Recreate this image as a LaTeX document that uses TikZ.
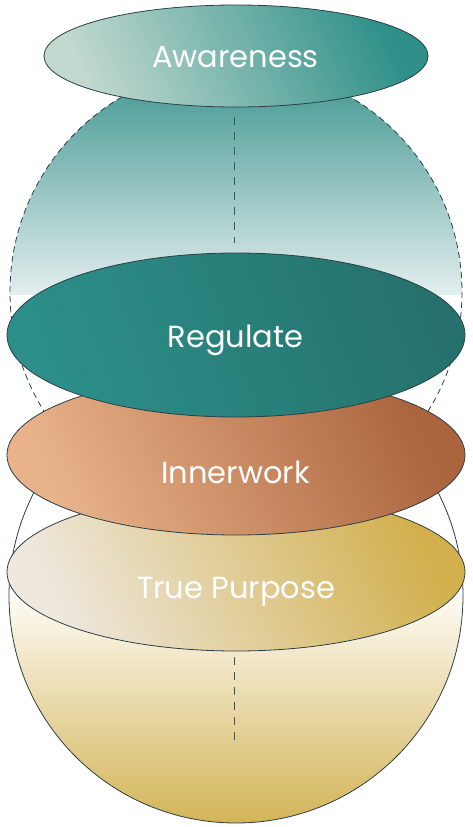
\documentclass[tikz,border=0pt]{standalone}
\usepackage{fontspec}
\newfontfamily\lbl{Poppins}
\usetikzlibrary{shapes.geometric}
\definecolor{edge}{HTML}{2B3F45}
\definecolor{dashc}{HTML}{3F5559}
\definecolor{tealTop}{HTML}{3D948E}
\definecolor{tealLow}{HTML}{E2EEEE}
\definecolor{creamTop}{HTML}{FDFBF4}
\definecolor{goldLow}{HTML}{D3B458}
\definecolor{awL}{HTML}{C2D9CF}
\definecolor{awR}{HTML}{2E9089}
\definecolor{rgL}{HTML}{2C8F89}
\definecolor{rgR}{HTML}{26716D}
\definecolor{inL}{HTML}{E8B38B}
\definecolor{inR}{HTML}{AB643D}
\definecolor{tpL}{HTML}{EEE8DE}
\definecolor{tpR}{HTML}{D2B04E}
\tikzset{
  disc/.style={ellipse, draw=edge, line width=0.8pt, inner sep=0pt, minimum width=#1},
  lab/.style={text=white, font=\lbl\fontsize{30.5}{32}\selectfont, anchor=base},
  vdash/.style={draw=dashc, line width=0.9pt, dash pattern=on 8pt off 7pt},
  cdash/.style={draw=edge, line width=0.8pt, dash pattern=on 6pt off 4pt}
}
\begin{document}
\begin{tikzpicture}[x=1pt, y=-1pt]
\useasboundingbox (0,0) rectangle (473,827);
% upper sphere (dashed)
\begin{scope}
  \clip (236,292) circle (226);
  \shade[top color=tealTop, bottom color=tealLow] (0,66) rectangle (473,294);
\end{scope}
\draw[cdash] (236,292) circle (226);
% lower sphere (solid)
\begin{scope}
  \clip (236,596) circle (227);
  \shade[top color=creamTop, bottom color=goldLow] (0,596) rectangle (473,823);
\end{scope}
\draw[edge, line width=0.8pt] (236,596) circle (227);
% discs
\node[disc=458pt, minimum height=158pt, bottom color=tpL, top color=tpR, shading angle=-65] (tp) at (236,572) {};
\node[disc=458pt, minimum height=160pt, bottom color=inL, top color=inR, shading angle=-65] (iw) at (236,455) {};
\node[disc=458pt, minimum height=164pt, bottom color=rgL, top color=rgR, shading angle=-70] (rg) at (236,335) {};
\node[disc=384pt, minimum height=102pt, bottom color=awL, top color=awR, shading angle=-65] (aw) at (236,56) {};
% labels
\node[lab] (awt) at (235.5,67) {Awareness};
\node[lab] (rgt) at (235.5,347) {Regulate};
\node[lab] (iwt) at (235.5,483) {Innerwork};
\node[lab] (tpt) at (236,598) {True Purpose};
% dashed axes
\coordinate (lend) at (234,743);
\draw[vdash] ([xshift=-2pt,yshift=-10pt]aw.south) -- ([xshift=-2pt,yshift=10pt]rg.north);
\draw[vdash] ([xshift=-2pt,yshift=-6pt]tp.south) -- (lend);
\end{tikzpicture}
\end{document}
